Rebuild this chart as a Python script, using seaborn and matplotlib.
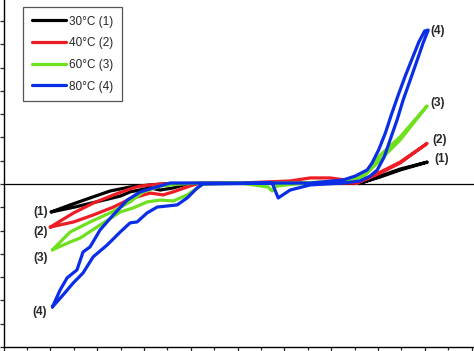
import matplotlib
matplotlib.use("Agg")
import matplotlib.pyplot as plt
import seaborn as sns
import pandas as pd
from matplotlib.ticker import MultipleLocator, NullFormatter

sns.set_theme(style="ticks")
plt.rcParams['font.family'] = ['Liberation Sans', 'DejaVu Sans']

# ---- data (potential in V, current in arbitrary units) ----
labels = ["30°C (1)", "40°C (2)", "60°C (3)", "80°C (4)"]
colors = ["#000000", "#ee1c24", "#6fe01e", "#0a2de6"]

x_30 = [-0.796, -0.695, -0.587, -0.501, -0.459, -0.373, -0.330, -0.275, -0.215, -0.159, 0.012, 0.268, 0.460, 0.524, 0.610, 0.695, 0.811,
        0.695, 0.610, 0.524, 0.300, 0.000, -0.288, -0.373, -0.459, -0.544, -0.630, -0.715, -0.796]
y_30 = [-1.20, -0.99, -0.73, -0.52, -0.34, -0.17, -0.26, -0.17, 0.00, 0.02, 0.03, 0.04, 0.04, 0.02, 0.34, 0.64, 0.94,
        0.60, 0.30, 0.04, 0.04, 0.03, 0.02, -0.04, -0.13, -0.30, -0.60, -0.90, -1.20]

x_40 = [-0.800, -0.700, -0.616, -0.530, -0.459, -0.373, -0.318, -0.275, -0.215, -0.172, 0.012, 0.225, 0.311, 0.396, 0.460, 0.511, 0.610, 0.695, 0.810,
        0.695, 0.610, 0.511, 0.268, -0.159, -0.330, -0.416, -0.446, -0.530, -0.616, -0.700, -0.800]
y_40 = [-1.85, -1.63, -1.33, -0.99, -0.64, -0.39, -0.47, -0.34, -0.13, 0.02, 0.04, 0.13, 0.26, 0.26, 0.17, 0.04, 0.51, 0.94, 1.74,
        0.90, 0.47, 0.04, 0.04, 0.02, 0.00, -0.09, -0.17, -0.47, -0.82, -1.24, -1.85]

x_60 = [-0.791, -0.715, -0.672, -0.587, -0.501, -0.446, -0.386, -0.330, -0.275, -0.215, -0.172, -0.147, 0.012, 0.131, 0.148, 0.165, 0.268, 0.451, 0.537, 0.610, 0.695, 0.810,
        0.695, 0.610, 0.537, 0.451, 0.268, -0.159, -0.245, -0.330, -0.403, -0.459, -0.544, -0.630, -0.715, -0.791]
y_60 = [-2.83, -2.49, -2.32, -1.76, -1.20, -1.03, -0.77, -0.69, -0.73, -0.47, -0.17, 0.00, 0.04, -0.13, -0.30, -0.09, 0.02, 0.09, 0.30, 1.03, 1.89, 3.35,
        2.02, 1.24, 0.39, 0.13, 0.04, 0.04, 0.00, -0.09, -0.34, -0.77, -1.24, -1.63, -2.06, -2.83]

x_80 = [-0.791, -0.745, -0.702, -0.660, -0.617, -0.557, -0.501, -0.459, -0.429, -0.386, -0.343, -0.258, -0.215, -0.172, -0.147, 0.012, 0.148, 0.174, 0.225, 0.311,
        0.451, 0.524, 0.567, 0.597, 0.627, 0.652, 0.682, 0.708, 0.738, 0.768, 0.793, 0.815,
        0.800, 0.775, 0.744, 0.717, 0.687, 0.657, 0.632, 0.603, 0.575, 0.554, 0.503, 0.451,
        0.311, 0.012, -0.288, -0.360, -0.416, -0.471, -0.531, -0.587, -0.630, -0.660, -0.686, -0.728, -0.758, -0.791]
y_80 = [-5.28, -4.76, -4.25, -3.82, -3.13, -2.62, -2.06, -1.67, -1.63, -1.24, -0.99, -0.90, -0.60, -0.17, 0.00, 0.02, 0.04, -0.60, -0.26, -0.04,
        0.04, 0.13, 0.34, 0.60, 1.16, 1.89, 2.75, 3.61, 4.46, 5.32, 6.05, 6.61,
        6.57, 6.10, 5.32, 4.64, 3.82, 2.96, 2.19, 1.46, 0.90, 0.60, 0.34, 0.17,
        0.04, 0.04, 0.04, -0.17, -0.34, -0.69, -1.33, -1.97, -2.70, -2.92, -3.69, -4.03, -4.55, -5.28]

tags = ["(1)", "(2)", "(3)", "(4)"]

frames = []
for lab, xs, ys in zip(labels, [x_30, x_40, x_60, x_80], [y_30, y_40, y_60, y_80]):
    frames.append(pd.DataFrame({"E": xs, "I": ys, "T": lab}))
df = pd.concat(frames, ignore_index=True)

fig = plt.figure(figsize=(4.74, 3.51), dpi=100)
ax = fig.add_axes([3.5 / 474, 4 / 351, 1 - 3.5 / 474, 347 / 351])

sns.lineplot(data=df, x="E", y="I", hue="T", palette=dict(zip(labels, colors)),
             sort=False, estimator=None, linewidth=2.3, legend=False, ax=ax, zorder=3)

curve_lines = list(ax.lines[:4])
for ln in curve_lines:
    ln.set_solid_joinstyle("round")
    ln.set_solid_capstyle("round")
ax.axhline(0, color="black", lw=0.9, zorder=1)

ax.set_xlim(-1.0, -1.0 + 470.5 / 234)
ax.set_ylim(-7.0, 7.9)
ax.xaxis.set_major_locator(MultipleLocator(0.2))
ax.xaxis.set_minor_locator(MultipleLocator(0.1))
ax.yaxis.set_major_locator(MultipleLocator(1.0))
ax.xaxis.set_major_formatter(NullFormatter())
ax.yaxis.set_major_formatter(NullFormatter())
ax.tick_params(axis="x", which="major", length=4, width=0.9, direction="out")
ax.tick_params(axis="x", which="minor", length=2, width=0.9, direction="out")
ax.tick_params(axis="y", which="major", length=3, width=0.9, direction="out")
ax.set_xlabel("")
ax.set_ylabel("")
for s in ["top", "right"]:
    ax.spines[s].set_visible(False)
for s in ["left", "bottom"]:
    ax.spines[s].set_linewidth(1.0)
    ax.spines[s].set_color("black")

# curve labels
left_pos = [(-0.809, -1.20), (-0.812, -2.06), (-0.809, -3.18), (-0.813, -5.49)]
right_pos = [(0.842, 1.07), (0.833, 1.89), (0.825, 3.48), (0.825, 6.57)]
for t, (x, y) in zip(tags, left_pos):
    ax.text(x, y, t, ha="right", va="center", fontsize=8.5, fontweight="bold")
for t, (x, y) in zip(tags, right_pos):
    ax.text(x, y, t, ha="left", va="center", fontsize=8.5, fontweight="bold")

leg = ax.legend(curve_lines, labels, loc="upper left",
                bbox_to_anchor=(23 / 474, 1 - 7 / 351), bbox_transform=fig.transFigure,
                fontsize=8.5, frameon=True, fancybox=False, framealpha=1,
                edgecolor="#555555", handlelength=2.9, handletextpad=0.3,
                labelspacing=0.82, borderpad=0.72, borderaxespad=0)
leg.get_frame().set_linewidth(0.9)
for h in leg.get_lines():
    h.set_linewidth(2.3)

fig.savefig("out.png", dpi=100)
